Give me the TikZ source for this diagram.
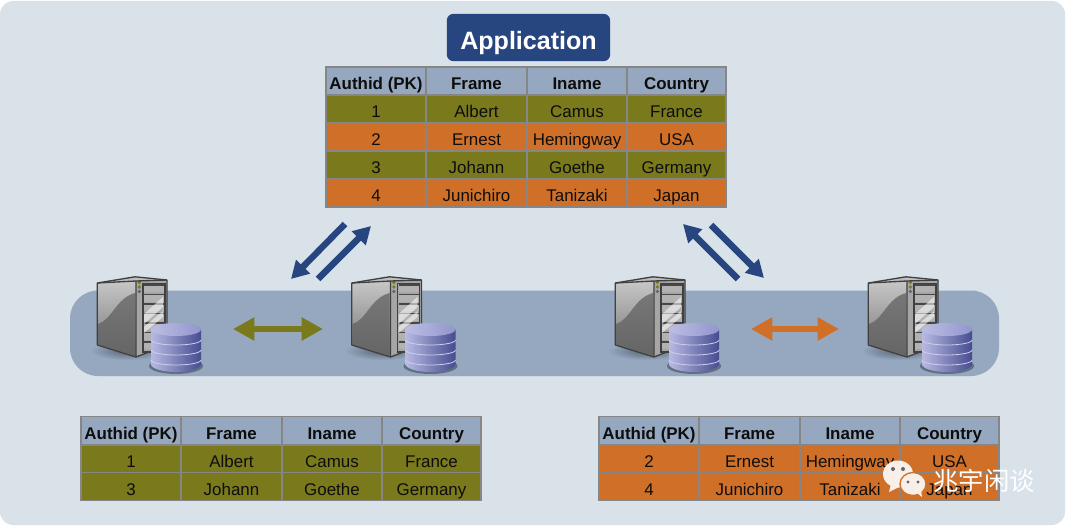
\documentclass[tikz,border=0pt]{standalone}
\usepackage{fontspec}
\setmainfont{Liberation Sans}
\newfontfamily\cjkfont{Noto Sans CJK SC}
\usetikzlibrary{arrows.meta}
\definecolor{panel}{HTML}{D9E1E9}
\definecolor{band}{HTML}{95A8C0}
\definecolor{gridc}{HTML}{868686}
\definecolor{oliv}{HTML}{7A7A1C}
\definecolor{orng}{HTML}{D07028}
\definecolor{navy}{HTML}{27467F}
\definecolor{dbm}{HTML}{A6A8DC}
\definecolor{dbd}{HTML}{464C90}
\tikzset{
  x=0.75pt,y=-0.75pt,
  cell/.style={draw=gridc,line width=1.2pt,inner sep=0pt,font=\fontsize{12.7pt}{14pt}\selectfont,
     text=black!95,text height=15.4pt,text depth=2.2pt},
  hdr/.style={cell,fill=band,font=\fontsize{12.7pt}{14pt}\selectfont\bfseries},
  olv/.style={cell,fill=oliv},
  org/.style={cell,fill=orng},
  bluearrow/.style={draw=navy,line width=4.8pt,-{Triangle[length=13pt,width=14pt]}},
  sync/.style={line width=5pt,{Triangle[length=16pt,width=16.5pt]}-{Triangle[length=16pt,width=16.5pt]}},
  srvline/.style={draw=black!75,line width=0.7pt},
}
% name, x-offset, y-centre, height(pt), style, four texts
\newcommand{\tabrow}[9]{%
  \foreach \nm/\cx/\cw/\tx in {a/50/75/{#6},b/150.5/75.4/{#7},c/251/75.4/{#8},d/350.5/74.4/{#9}}{%
    \node[#5,minimum width=\cw pt,minimum height=#4pt] (#1\nm) at (#2+\cx,#3) {\tx};
  }%
}
\newcommand{\srvdb}[1]{%
\begin{scope}[shift={(#1,0)}]
  % floor shadow
  \shade[inner color=black!40!band,outer color=band] (128,351) ellipse (38 and 9);
  % faces
  \fill[black!25] (97.3,283) -- (135,276.8) -- (167,280) -- (136,281) -- cycle;
  \shade[top color=black!22,bottom color=black!55] (97.3,283) -- (136,281) -- (136,357) -- (97.3,345) -- cycle;
  \fill[black!62,opacity=.75] (98,324) .. controls (112,320) and (116,298) .. (135,293) -- (135,355.5) -- (98,344.5) -- cycle;
  \fill[black!35] (136,281) -- (167,280) -- (167,345) -- (136,357) -- cycle;
  \foreach \yy in {284,293.5,303,312.5,322,331.5,341}{
    \fill[black!72] (144,\yy) rectangle (164,\yy+1.6);
    \fill[black!30] (144,\yy+1.6) rectangle (164,\yy+8);
  }
  \draw[srvline,line width=1pt] (143,283.5) rectangle (165,352);
  \fill[white,opacity=.55] (144,314) -- (163,297) -- (163,307) -- (144,324) -- cycle;
  \fill[white,opacity=.55] (144,327) -- (163,311) -- (163,317) -- (144,333) -- cycle;
  \fill[oliv] (139.3,282.5) circle (1.8);
  \fill[oliv] (139.3,287) circle (1.8);
  \fill[band!60!black] (139.3,291.5) circle (1.8);
  \draw[black!75,line width=1pt,line join=round] (97.3,283) -- (135,276.8) -- (167,280) -- (167,345) -- (136,357) -- (97.3,345) -- cycle;
  \draw[black!75,line width=1pt] (97.3,283) -- (136,281) -- (167,280) (136,281) -- (136,357);
  % database
  \fill[black!55!band,opacity=.6] (176,366) ellipse (27 and 8);
  \shade[left color=dbm!80!white,middle color=dbm,right color=dbd]
     (151,330) -- (151,364) arc[start angle=180,end angle=0,x radius=25,y radius=8] -- (201,330) arc[start angle=0,end angle=-180,x radius=25,y radius=6];
  \foreach \yy in {340,350,360}{
    \draw[dbm!55!white,line width=0.6pt] (151,\yy) arc[start angle=180,end angle=0,x radius=25,y radius=5];
  }
  \shade[left color=dbm!75!white,right color=dbm!80!dbd] (176,329.5) ellipse (25 and 6.5);
\end{scope}}
\begin{document}
\begin{tikzpicture}
\useasboundingbox (0,0) rectangle (1070,528);
\fill[white] (0,0) rectangle (1070,528);
\fill[panel,rounded corners=10pt] (0,1) rectangle (1065,525);
\fill[band,rounded corners=21pt] (70,290.5) rectangle (999,376);

\node[fill=navy,text=white,rounded corners=5pt,minimum width=122.5pt,minimum height=35.5pt,inner sep=0pt,
  text height=22.5pt,text depth=3.9pt,font=\fontsize{18.8pt}{20pt}\selectfont\bfseries] (app) at (528.5,37.5) {Application};

% top table
\tabrow{h}{326}{81}{21}{hdr}{Authid (PK)}{Frame}{Iname}{Country}
\tabrow{ra}{326}{109}{21}{olv}{1}{Albert}{Camus}{France}
\tabrow{rb}{326}{137}{21}{org}{2}{Ernest}{Hemingway}{USA}
\tabrow{rc}{326}{165}{21}{olv}{3}{Johann}{Goethe}{Germany}
\tabrow{rd}{326}{193}{21}{org}{4}{Junichiro}{Tanizaki}{Japan}
% lower left table
\tabrow{lh}{81}{430.5}{21}{hdr}{Authid (PK)}{Frame}{Iname}{Country}
\tabrow{la}{81}{459}{21}{olv}{1}{Albert}{Camus}{France}
\tabrow{lb}{81}{486.5}{21}{olv}{3}{Johann}{Goethe}{Germany}
% lower right table
\tabrow{mh}{599}{430.5}{21}{hdr}{Authid (PK)}{Frame}{Iname}{Country}
\tabrow{ma}{599}{459}{21}{org}{2}{Ernest}{Hemingway}{USA}
\tabrow{mb}{599}{486.5}{21}{org}{4}{Junichiro}{Tanizaki}{Japan}

% servers
\srvdb{0}\srvdb{254.5}\srvdb{518}\srvdb{771}

% arrows
\coordinate (p1) at (345,224); \coordinate (q1) at (291,279);
\coordinate (p2) at (318,279); \coordinate (q2) at (371,226);
\coordinate (p3) at (738,279); \coordinate (q3) at (683,224);
\coordinate (p4) at (711,225); \coordinate (q4) at (764,278);
\coordinate (s1) at (233,329); \coordinate (s2) at (323,329);
\coordinate (s3) at (751,329); \coordinate (s4) at (839,329);
\draw[bluearrow] (p1) -- (q1);
\draw[bluearrow] (p2) -- (q2);
\draw[bluearrow] (p3) -- (q3);
\draw[bluearrow] (p4) -- (q4);
\draw[sync,draw=oliv] (s1) -- (s2);
\draw[sync,draw=orng] (s3) -- (s4);

% watermark
\definecolor{wm}{HTML}{F8EFE8}
\fill[wm] (898,474) ellipse (15 and 13.5);
\fill[wm] (891,484) -- (889,492) -- (899,487) -- cycle;
\fill[black!60] (893,469) circle (2); \fill[black!60] (903,469) circle (2);
\draw[orng,line width=1pt,fill=wm] (913,484) ellipse (13 and 11.5);
\fill[wm] (917,493) -- (922,497) -- (921,490) -- cycle;
\fill[black!60] (908,482) circle (1.7); \fill[black!60] (918,482) circle (1.7);
\node[text=white,font=\cjkfont\fontsize{19pt}{20pt}\selectfont,inner sep=0pt] (wmt) at (984,481) {兆宇闲谈};
\end{tikzpicture}
\end{document}
